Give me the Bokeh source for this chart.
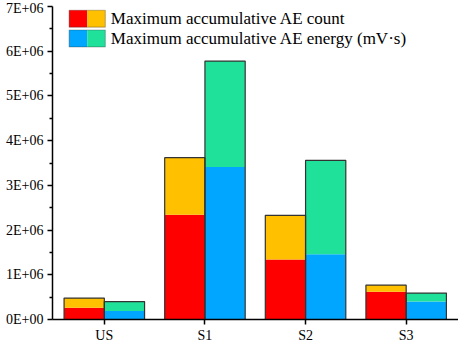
import numpy as np
from bokeh.plotting import figure
from bokeh.models import ColumnDataSource, FixedTicker, Range1d, BoxAnnotation, Label
from bokeh.embed import file_html
from bokeh.resources import INLINE

categories = ["US", "S1", "S2", "S3"]
count_bottom = [0.26e6, 2.34e6, 1.34e6, 0.62e6]
count_total = [0.48e6, 3.62e6, 2.33e6, 0.77e6]
energy_bottom = [0.19e6, 3.41e6, 1.46e6, 0.40e6]
energy_total = [0.40e6, 5.78e6, 3.56e6, 0.59e6]
y_ticks = [0, 1e6, 2e6, 3e6, 4e6, 5e6, 6e6, 7e6]
y_tick_labels = ["0E+00", "1E+06", "2E+06", "3E+06", "4E+06", "5E+06", "6E+06", "7E+06"]
legend_labels = ["Maximum accumulative AE count", "Maximum accumulative AE energy (mV\u00b7s)"]

RED, ORANGE, BLUE, GREEN = "#FF0000", "#FFC000", "#00A6FF", "#20E19A"
EDGE = "#333333"
FONT = "Liberation Serif"

xs = np.arange(len(categories))
src = ColumnDataSource(dict(
    xc=xs - 0.2, xe=xs + 0.2,
    cb=count_bottom, ct=count_total,
    eb=energy_bottom, et=energy_total,
    zero=[0] * len(categories),
))

p = figure(width=458, height=345, output_backend="svg", toolbar_location=None,
           x_range=Range1d(-0.515, 3.52), y_range=Range1d(0, 7e6),
           min_border_left=52, min_border_right=0, min_border_top=6, min_border_bottom=20)
p.outline_line_color = None
p.xgrid.visible = False
p.ygrid.visible = False

W = 0.4
p.vbar(x="xc", width=W, bottom="zero", top="cb", source=src, fill_color=RED, line_color=None)
p.vbar(x="xc", width=W, bottom="cb", top="ct", source=src, fill_color=ORANGE, line_color=None)
p.vbar(x="xe", width=W, bottom="zero", top="eb", source=src, fill_color=BLUE, line_color=None)
p.vbar(x="xe", width=W, bottom="eb", top="et", source=src, fill_color=GREEN, line_color=None)
p.vbar(x="xc", width=W, bottom="zero", top="ct", source=src, fill_alpha=0, line_color=EDGE, line_width=1.2)
p.vbar(x="xe", width=W, bottom="zero", top="et", source=src, fill_alpha=0, line_color=EDGE, line_width=1.2)

# axes
p.yaxis.ticker = FixedTicker(ticks=y_ticks, minor_ticks=[t + 0.5e6 for t in y_ticks[:-1]])
p.yaxis.major_label_overrides = {t: l for t, l in zip(y_ticks, y_tick_labels)}
p.xaxis.ticker = FixedTicker(ticks=list(xs), minor_ticks=[])
p.xaxis.major_label_overrides = {int(i): c for i, c in zip(xs, categories)}
for ax in (p.xaxis, p.yaxis):
    ax.axis_line_color = "black"
    ax.axis_line_width = 1.5
    ax.major_tick_line_color = "black"
    ax.major_tick_line_width = 1.5
    ax.major_tick_in = 0
    ax.major_tick_out = 5
    ax.major_label_text_font = FONT
    ax.major_label_text_font_size = "14px"
    ax.major_label_text_color = "black"
p.yaxis.minor_tick_line_color = "black"
p.yaxis.minor_tick_line_width = 1.5
p.yaxis.minor_tick_in = 0
p.yaxis.minor_tick_out = 3
p.yaxis.major_label_standoff = 4
p.xaxis.major_label_standoff = 3

# legend (custom split patches)
ytop = [6.916e6, 6.475e6]
ybot = [6.538e6, 6.096e6]
colors = [(RED, ORANGE), (BLUE, GREEN)]
for i in range(2):
    c1, c2 = colors[i]
    p.add_layout(BoxAnnotation(left=-0.35, right=-0.17, bottom=ybot[i], top=ytop[i],
                               fill_color=c1, fill_alpha=1, line_color=None))
    p.add_layout(BoxAnnotation(left=-0.17, right=0.01, bottom=ybot[i], top=ytop[i],
                               fill_color=c2, fill_alpha=1, line_color=None))
    p.add_layout(BoxAnnotation(left=-0.35, right=0.01, bottom=ybot[i], top=ytop[i],
                               fill_color=None, fill_alpha=0, line_color=EDGE, line_width=1.2,
                               line_dash="solid"))
    p.add_layout(Label(x=0.065, y=(ytop[i] + ybot[i]) / 2, text=legend_labels[i],
                       text_font=FONT, text_font_size="17px", text_baseline="middle",
                       text_color="black"))

open("out.html", "w").write(file_html(p, INLINE))
